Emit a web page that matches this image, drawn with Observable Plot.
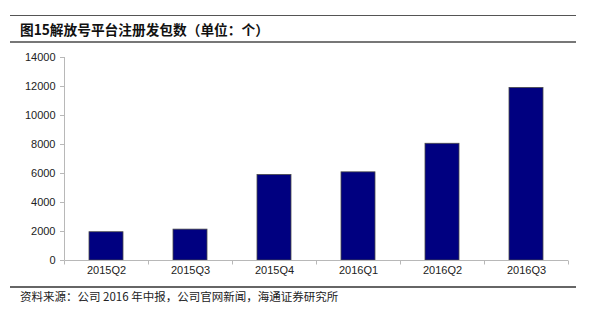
<!DOCTYPE html>
<html>
<head>
<meta charset="utf-8">
<script src="https://cdn.jsdelivr.net/npm/d3@7"></script>
<script src="https://cdn.jsdelivr.net/npm/@observablehq/plot@0.6"></script>
<style>
  html, body { margin: 0; padding: 0; background: #fff; }
  #wrap { position: relative; width: 600px; height: 317px; overflow: hidden; background: #fff; }
  .hline { position: absolute; left: 10px; width: 566px; }
  #title { position: absolute; left: 20px; top: 20px; font-family: "Noto Sans CJK SC", sans-serif; font-weight: 700; font-size: 13.7px; line-height: 18px; color: #111; white-space: nowrap; }
  #caption { position: absolute; left: 20px; top: 289px; font-family: "Noto Sans CJK SC", sans-serif; font-size: 11.5px; line-height: 15px; color: #222; white-space: nowrap; }
  #chart { position: absolute; left: 0; top: 46px; }
</style>
</head>
<body>
<div id="wrap">
  <div class="hline" style="top:15px;height:1px;background:#555;"></div>
  <div id="title"></div>
  <div class="hline" style="top:41px;height:2px;background:#777;"></div>
  <div id="chart"></div>
  <div class="hline" style="top:286px;height:2px;background:#666;"></div>
  <div id="caption"></div>
</div>
<script>
const titleText = "图15解放号平台注册发包数（单位：个）";
const captionText = "资料来源：公司 2016 年中报，公司官网新闻，海通证券研究所";
const quarters = ["2015Q2", "2015Q3", "2015Q4", "2016Q1", "2016Q2", "2016Q3"];
const packages = [1950, 2130, 5900, 6080, 8050, 11900];
const yTicks = [0, 2000, 4000, 6000, 8000, 10000, 12000, 14000];

document.getElementById("title").textContent = titleText;
document.getElementById("caption").textContent = captionText;

const data = quarters.map((q, i) => ({quarter: q, value: packages[i]}));

// axis lines and category-boundary ticks, drawn through the scales
function axisLines(index, scales, values, dimensions) {
  const x = scales.x, y = scales.y;
  const g = d3.create("svg:g").attr("stroke", "#b8b8b8").attr("stroke-width", 1).attr("fill", "none");
  const step = x(quarters[1]) - x(quarters[0]);
  const bw = step * 0.4;
  const off = (step - bw) / 2;
  const y0 = Math.round(y(0)) + 0.5;
  const xl = dimensions.marginLeft + 0.5;
  const xr = dimensions.width - dimensions.marginRight;
  g.append("line").attr("x1", xl).attr("x2", xl).attr("y1", y(yTicks[yTicks.length - 1])).attr("y2", y0);
  g.append("line").attr("x1", xl).attr("x2", xr).attr("y1", y0).attr("y2", y0);
  const bounds = quarters.map(q => x(q) - off).concat([x(quarters[quarters.length - 1]) + bw + off]);
  for (const b of bounds) {
    const bx = Math.round(b) + 0.5;
    g.append("line").attr("x1", bx).attr("x2", bx).attr("y1", y0).attr("y2", y0 + 4);
  }
  return g.node();
}

const plot = Plot.plot({
  width: 600,
  height: 235,
  marginLeft: 64,
  marginRight: 32,
  marginTop: 11,
  marginBottom: 21,
  style: {fontFamily: "'Liberation Sans', Arial, sans-serif", fontSize: "11px", color: "#222", background: "#fff"},
  x: {domain: quarters, paddingInner: 0.6, paddingOuter: 0.3, align: 0.5},
  y: {domain: [0, 14000]},
  marks: [
    Plot.barY(data, {x: "quarter", y: "value", fill: "#000080", stroke: "#4a4a4a", strokeWidth: 0.8}),
    axisLines,
    Plot.axisY({ticks: yTicks, tickFormat: d3.format("d"), tickSize: 4, tickPadding: 5, stroke: "#b8b8b8", fill: "#222", label: null}),
    Plot.axisX({tickSize: 0, tickPadding: 6, fill: "#222", label: null})
  ]
});
document.getElementById("chart").appendChild(plot);
</script>
</body>
</html>
